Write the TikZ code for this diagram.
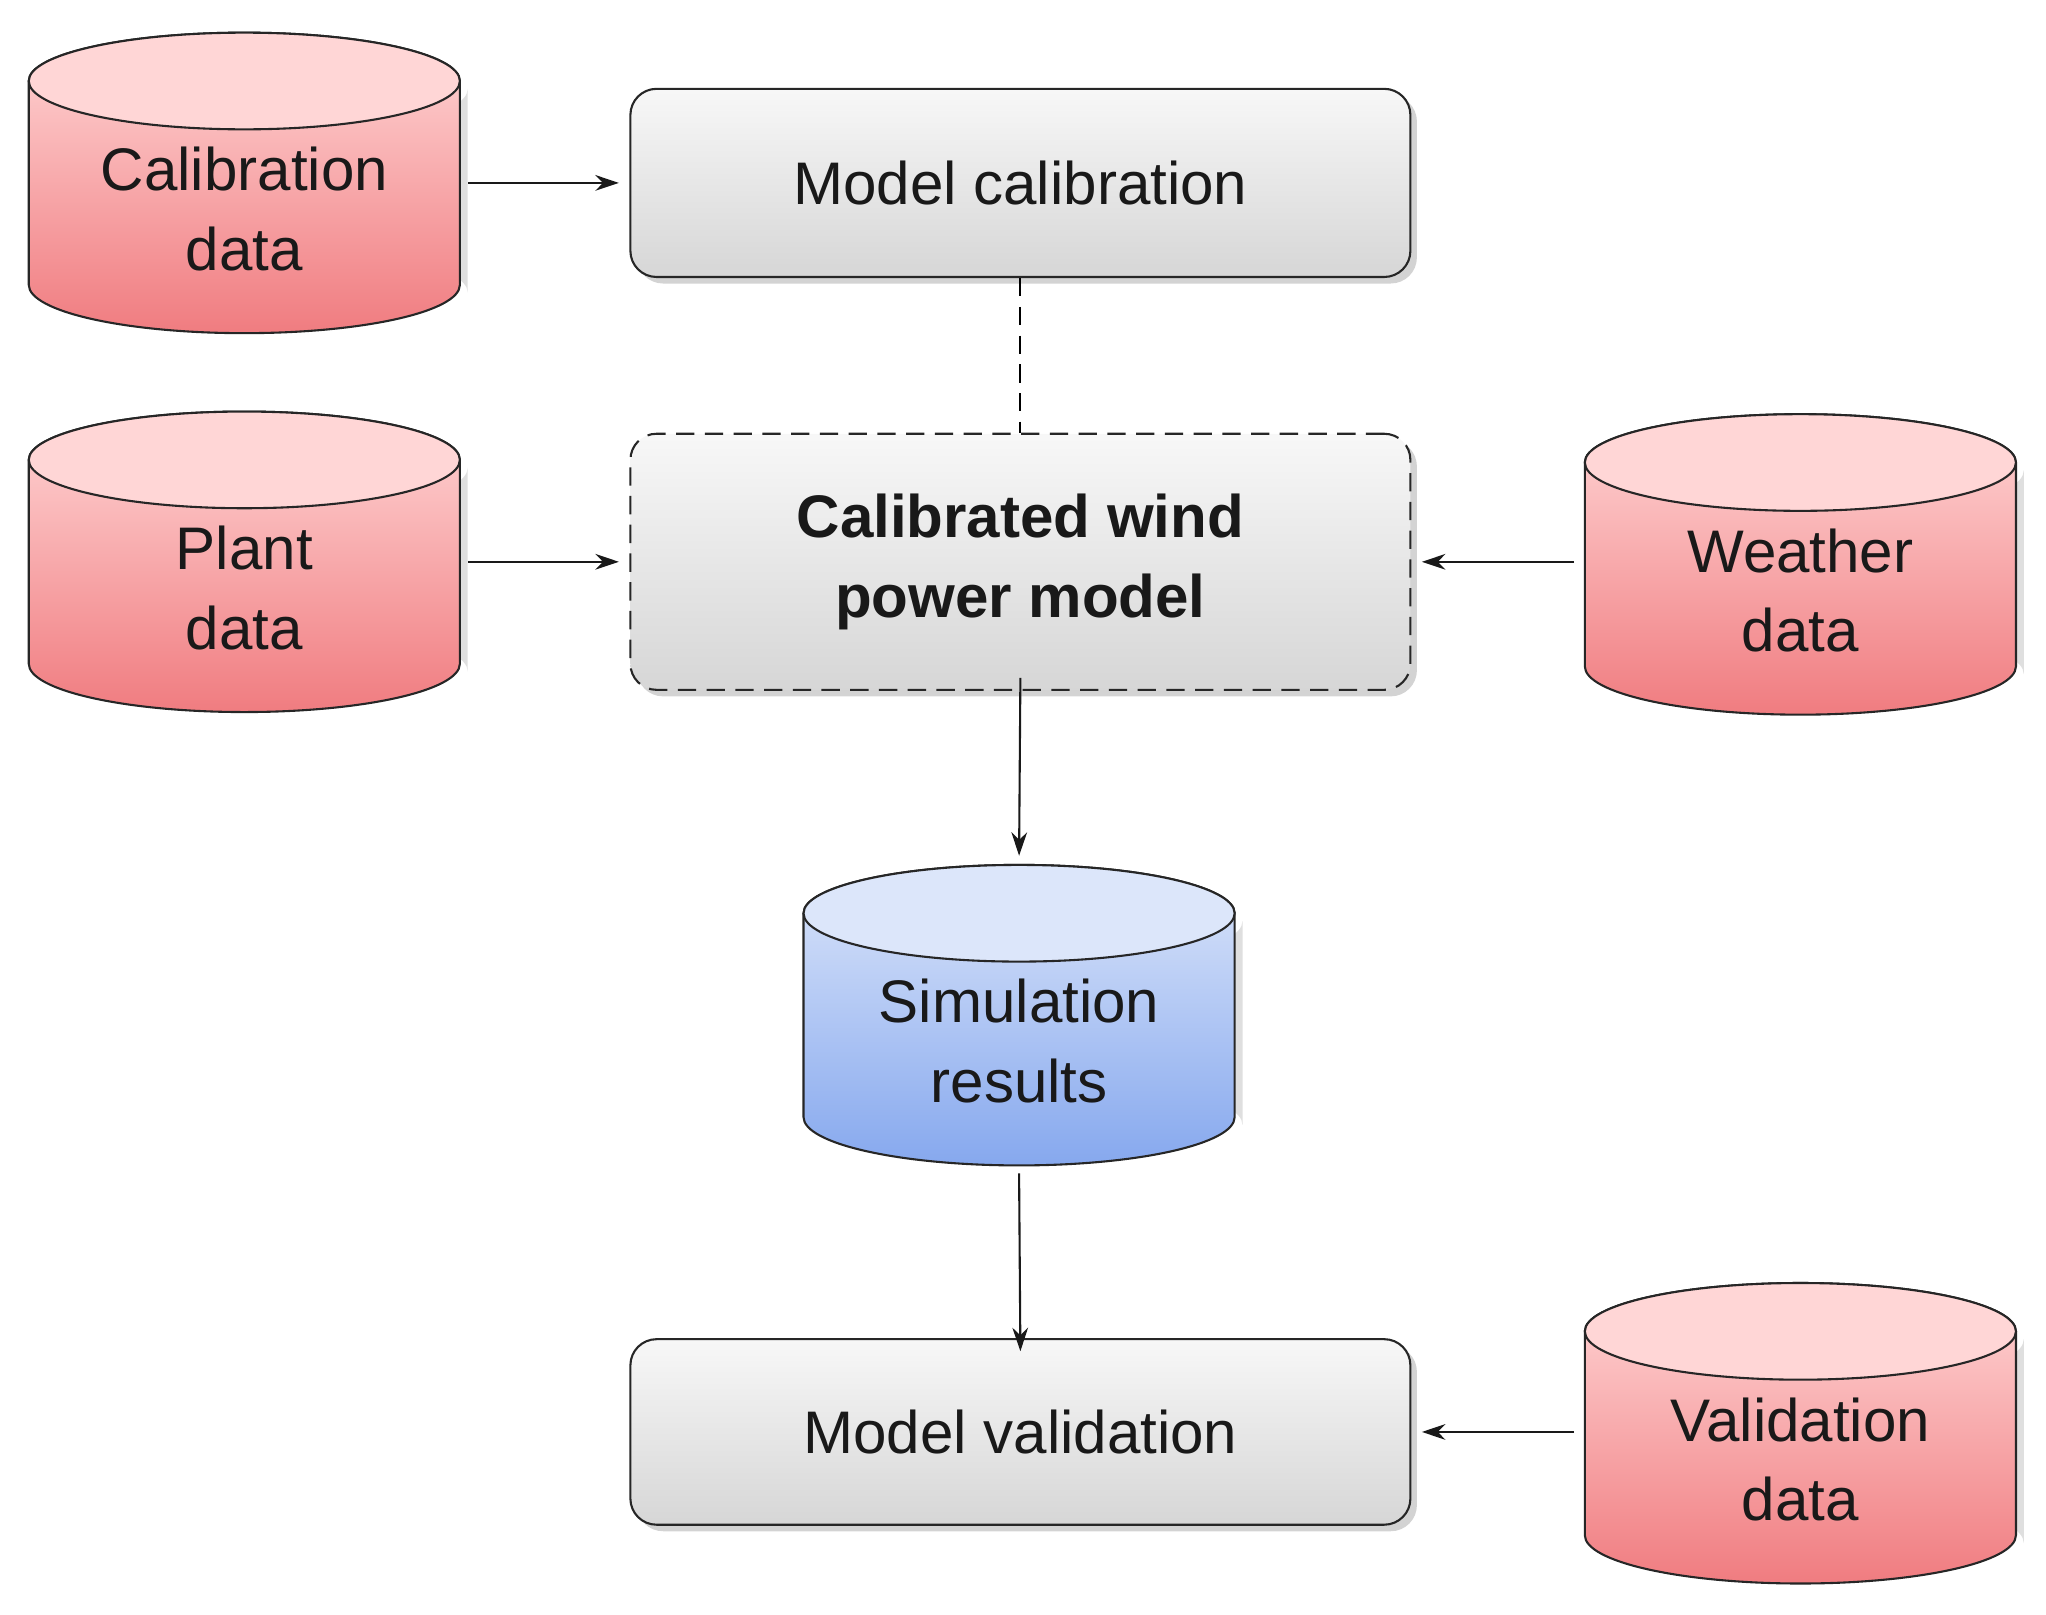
\documentclass[tikz,border=0pt]{standalone}
\usepackage{fontspec}
\setmainfont{Liberation Sans}
\usetikzlibrary{arrows.meta,shadows}
\definecolor{rtop}{HTML}{FFD6D6}
\definecolor{rbot}{HTML}{F07C80}
\definecolor{btop}{HTML}{DCE6FA}
\definecolor{bbot}{HTML}{86A8EE}
\newcommand\mydrum[6]{%
  % name, cx, cy(center), top color, bottom color, text
  \begin{scope}
  \fill[black!25,opacity=.5] (#2-165+6,#3-115+37+6) -- (#2-165+6,#3+115-37+6) arc[start angle=180,end angle=360,x radius=165,y radius=37] -- (#2+165+6,#3-115+37+6) arc[start angle=0,end angle=180,x radius=165,y radius=37];
  \shade[top color=#4,bottom color=#5,draw=black!85,line width=1.6] (#2-165,#3-115+37) -- (#2-165,#3+115-37) arc[start angle=180,end angle=360,x radius=165,y radius=-37] -- (#2+165,#3-115+37) arc[start angle=0,end angle=180,x radius=165,y radius=-37];
  \draw[fill=#4,draw=black!85,line width=1.6] (#2,#3-115+37) ellipse[x radius=165,y radius=37];
  \end{scope}
  \node[cylbox] (#1) at (#2,#3+20) {#6};}
\tikzset{
  x=1pt,y=-1pt,
  txt/.style={font=\fontsize{46}{61}\selectfont,align=center,text=black!90},
  cylbox/.style={txt,inner sep=0,minimum width=330,minimum height=190},
  box/.style={txt,draw=black!85,line width=1.6,rounded corners=20,top color=white!97!black,bottom color=black!16,minimum width=597,drop shadow={opacity=0.35,shadow xshift=5pt,shadow yshift=-5pt}},
  arr/.style={-{Stealth[length=18,width=12]},line width=1.6,black!90}
}
\begin{document}
\begin{tikzpicture}
\useasboundingbox (0,0) rectangle (1566,1236);
\mydrum{cal}{187}{140}{rtop}{rbot}{Calibration\\data}
\mydrum{plant}{187}{430}{rtop}{rbot}{Plant\\data}
\mydrum{weather}{1378}{432}{rtop}{rbot}{Weather\\data}
\mydrum{sim}{780}{777}{btop}{bbot}{Simulation\\results}
\mydrum{val}{1378}{1097}{rtop}{rbot}{Validation\\data}
\node[box,minimum height=144] (mc) at (781,140) {Model calibration};
\node[box,minimum height=196,dashed,dash pattern=on 14 off 8,font=\fontsize{46}{61}\selectfont\bfseries] (cw) at (781,430) {Calibrated wind\\power model};
\node[box,minimum height=142] (mv) at (781,1096) {Model validation};
\draw[arr] (cal.east|-mc) ++(6,0) -- ([xshift=-8]mc.west);
\draw[line width=1.6,dashed,dash pattern=on 14 off 8] (mc.south) -- (cw.north);
\draw[arr] (plant.east|-cw) ++(6,0) -- ([xshift=-8]cw.west);
\draw[arr] (weather.west|-cw) ++(-8,0) -- ([xshift=8]cw.east);
\draw[arr] ([yshift=10]cw.south) -- (780,655);
\draw[arr] (780,898) -- ([yshift=-10]mv.north);
\draw[arr] (val.west|-mv) ++(-8,0) -- ([xshift=8]mv.east);
\end{tikzpicture}
\end{document}
